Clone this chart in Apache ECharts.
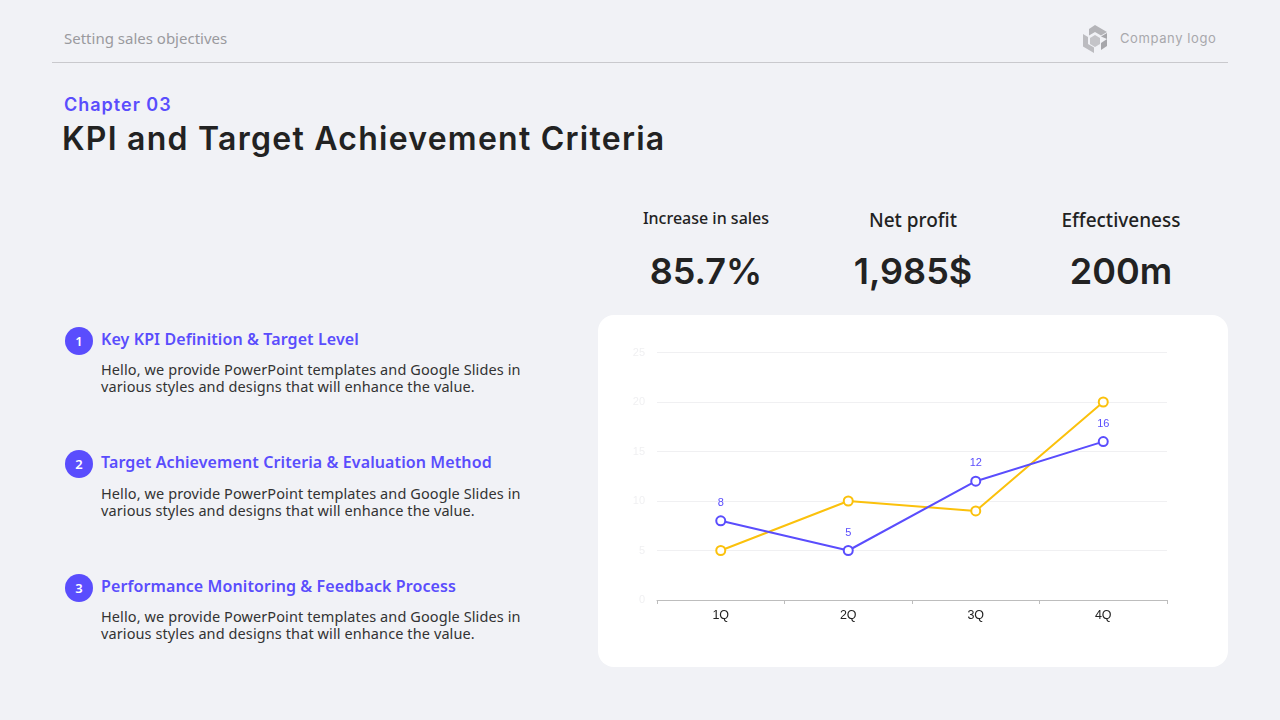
<!DOCTYPE html>
<html>
<head>
<meta charset="utf-8">
<script src="https://cdn.jsdelivr.net/npm/echarts@6/dist/echarts.min.js"></script>
<style>
  html, body { margin:0; padding:0; }
  body { width:1280px; height:720px; background:#f1f2f6; position:relative; overflow:hidden; font-family:"Noto Sans", sans-serif; }
  .abs { position:absolute; white-space:nowrap; }
  #hdr { left:64px; top:28px; font-size:15px; color:#9a9a9e; }
  #rule { left:52px; top:62px; width:1176px; height:1px; background:#c9c9cd; }
  #logo { left:1081px; top:24px; }
  #logotxt { left:1120px; top:30px; font-size:13px; color:#a8a8ac; font-family:Inter, "Noto Sans", sans-serif; letter-spacing:0.6px; }
  #chap { left:64px; top:94px; font-size:18px; font-weight:600; color:#5a4dfd; font-family:Inter, "Noto Sans", sans-serif; letter-spacing:1px; }
  #title { left:62px; top:119px; font-size:32px; font-weight:600; color:#222; font-family:Inter, "Noto Sans", sans-serif; letter-spacing:1.25px; }
  .kl { font-size:19px; font-weight:500; color:#222; transform:translateX(-50%); }
  .kv { font-size:36px; font-weight:600; color:#222; transform:translateX(-50%); font-family:Inter, "Noto Sans", sans-serif; }
  .num { width:28px; height:28px; border-radius:50%; background:#5a4dfd; color:#fff; font-size:13px; font-weight:600; text-align:center; line-height:28px; }
  .ih { font-size:16px; font-weight:600; color:#5a4dfd; letter-spacing:0.1px; }
  .ib { font-size:14.5px; color:#333; line-height:17px; letter-spacing:0.1px; }
  #card { left:598px; top:315px; width:630px; height:352px; background:#fff; border-radius:16px; }
  #chart { left:598px; top:315px; width:630px; height:352px; }
</style>
</head>
<body>
<div class="abs" id="hdr">Setting sales objectives</div>
<div class="abs" id="rule"></div>
<svg class="abs" id="logo" width="28" height="30" viewBox="0 0 28 30">
  <polygon points="14,1 26,8 20,11.5 14,8 8,11.5 8,5" fill="#b4b4b8"/>
  <polygon points="26,9 26,22 20,26 20,19 26,15 20,12.5" fill="#a6a6aa"/>
  <polygon points="2,10 7,13 7,20 13,23.5 13,29 2,22.5" fill="#bcbcc0"/>
  <polygon points="9,14 14,11 19,14 19,20 14,23 9,20" fill="#c4c4c8"/>
</svg>
<div class="abs" id="logotxt">Company logo</div>
<div class="abs" id="chap">Chapter 03</div>
<div class="abs" id="title">KPI and Target Achievement Criteria</div>

<div class="abs kl" style="left:706px; top:207px; font-size:16px;">Increase in sales</div>
<div class="abs kl" style="left:913px; top:207px;">Net profit</div>
<div class="abs kl" style="left:1121px; top:207px;">Effectiveness</div>
<div class="abs kv" style="left:706px; top:249px;">85.7%</div>
<div class="abs kv" style="left:913px; top:249px;">1,985$</div>
<div class="abs kv" style="left:1121px; top:249px;">200m</div>

<div class="abs num" style="left:65px; top:327px;">1</div>
<div class="abs ih" style="left:101px; top:328px;">Key KPI Definition &amp; Target Level</div>
<div class="abs ib" style="left:101px; top:361px;">Hello, we provide PowerPoint templates and Google Slides in<br>various styles and designs that will enhance the value.</div>

<div class="abs num" style="left:65px; top:450px;">2</div>
<div class="abs ih" style="left:101px; top:451px;">Target Achievement Criteria &amp; Evaluation Method</div>
<div class="abs ib" style="left:101px; top:485px;">Hello, we provide PowerPoint templates and Google Slides in<br>various styles and designs that will enhance the value.</div>

<div class="abs num" style="left:65px; top:574px;">3</div>
<div class="abs ih" style="left:101px; top:575px;">Performance Monitoring &amp; Feedback Process</div>
<div class="abs ib" style="left:101px; top:608px;">Hello, we provide PowerPoint templates and Google Slides in<br>various styles and designs that will enhance the value.</div>

<div class="abs" id="card"></div>
<div class="abs" id="chart"></div>

<script>
const categories = ['1Q', '2Q', '3Q', '4Q'];
const seriesA = [8, 5, 12, 16];
const seriesB = [5, 10, 9, 20];
const yTicks = [0, 5, 10, 15, 20, 25];

const chart = echarts.init(document.getElementById('chart'), null, { renderer: 'canvas' });
chart.setOption({
  animation: false,
  backgroundColor: 'transparent',
  grid: { left: 59, right: 61, top: 37.5, bottom: 67, containLabel: false },
  xAxis: {
    type: 'category',
    data: categories,
    boundaryGap: true,
    axisLine: { show: true, lineStyle: { color: '#bdbdbd', width: 1 } },
    axisTick: { show: true, length: 4, lineStyle: { color: '#bdbdbd' } },
    axisLabel: { color: '#222', fontSize: 12.5, margin: 9, fontFamily: '"Liberation Sans", sans-serif' },
    splitLine: { show: false }
  },
  yAxis: {
    type: 'value',
    min: yTicks[0],
    max: yTicks[yTicks.length - 1],
    interval: yTicks[1] - yTicks[0],
    axisLine: { show: false },
    axisTick: { show: false },
    axisLabel: { color: '#f0f0f2', fontSize: 11, margin: 12 },
    splitLine: { lineStyle: { color: '#f0f0f2', width: 1 } }
  },
  series: [
    {
      name: 'B', type: 'line', data: seriesB,
      symbol: 'circle', symbolSize: 9,
      lineStyle: { color: '#fbc10c', width: 2 },
      itemStyle: { color: '#fff', borderColor: '#fbc10c', borderWidth: 2 },
      label: { show: false }
    },
    {
      name: 'A', type: 'line', data: seriesA,
      symbol: 'circle', symbolSize: 9,
      lineStyle: { color: '#5a4dfd', width: 2 },
      itemStyle: { color: '#fff', borderColor: '#5a4dfd', borderWidth: 2 },
      label: { show: true, position: 'top', distance: 7, color: '#5a4dfd', fontSize: 11 }
    }
  ]
});
</script>
</body>
</html>
